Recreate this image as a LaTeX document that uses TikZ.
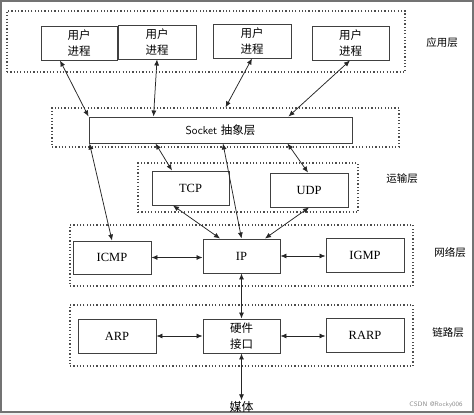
\documentclass[tikz,border=0pt]{standalone}
\usepackage{fontspec}
\setmainfont{Liberation Serif}
\newfontfamily\cjk{Noto Sans CJK SC}
\usetikzlibrary{arrows.meta}
\begin{document}
\begin{tikzpicture}[x=1pt,y=-1pt,
  box/.style={draw=black!75,line width=0.95pt,minimum height=34pt,inner sep=0pt,font=\fontsize{12.5}{16.5}\selectfont,align=center},
  cbox/.style={box,font=\cjk\fontsize{11.5}{16.5}\selectfont},
  grp/.style={draw=black!70,line width=1.2pt,dash pattern=on 1.2pt off 2.1pt,inner sep=0pt},
  lay/.style={font=\cjk\fontsize{10.5}{12}\selectfont,inner sep=0pt},
  conn/.style={{Latex[length=6pt,width=5pt]}-{Latex[length=6pt,width=5pt]},line width=0.75pt,black!85},
]
\useasboundingbox (0,0) rectangle (474,415);
\fill[white] (0,0) rectangle (474,415);
\fill[black!6] (0,412) rectangle (474,415);
\draw[black!55,line width=2pt] (1,1) rectangle (473,412);

% group boxes
\node[grp,minimum width=398pt,minimum height=61pt] (ag) at (206,41.5) {};
\node[grp,minimum width=347pt,minimum height=39pt] (sg) at (225.5,127.5) {};
\node[grp,minimum width=220pt,minimum height=49pt] (tg) at (248,187.5) {};
\node[grp,minimum width=343pt,minimum height=61pt] (ng) at (241.5,255.5) {};
\node[grp,minimum width=343pt,minimum height=61pt] (lg) at (241.5,335.5) {};

% application
\node[cbox,minimum width=76pt] (u1) at (79,43) {用户\\进程};
\node[cbox,minimum width=78pt] (u2) at (157,42) {用户\\进程};
\node[cbox,minimum width=78pt] (u3) at (252,41) {用户\\进程};
\node[cbox,minimum width=77pt] (u4) at (350.5,43) {用户\\进程};
\node[box,minimum width=263pt,minimum height=26pt] (soc) at (220.5,130) {\fontsize{11.5}{13}\selectfont\sffamily Socket {\cjk 抽象层}};

% transport
\node[box,minimum width=77pt] (tcp) at (190.5,188) {TCP};
\node[box,minimum width=78pt] (udp) at (309,190) {UDP};

% network
\node[box,minimum width=78pt,minimum height=33pt] (icmp) at (112,257.5) {ICMP};
\node[box,minimum width=77pt] (ip) at (241.5,256) {IP};
\node[box,minimum width=78pt] (igmp) at (365,255) {IGMP};

% link
\node[box,minimum width=78pt] (arp) at (117,336) {ARP};
\node[cbox,minimum width=77pt] (hw) at (241.5,336) {硬件\\接口};
\node[box,minimum width=78pt] (rarp) at (365,335) {RARP};

\node[lay,font=\cjk\fontsize{12}{13}\selectfont] (media) at (241.5,407) {媒体};

% layer labels
\node[lay] (l1) at (442,43) {应用层};
\node[lay] (l2) at (402,179) {运输层};
\node[lay] (l3) at (450,252) {网络层};
\node[lay] (l4) at (448,333) {链路层};

\node[font=\sffamily\fontsize{6.5}{7}\selectfont,text=black!45,inner sep=0pt] (wm) at (436,405) {CSDN @Rocky006};

% connectors
\draw[conn] ([xshift=-19pt]u1.south) -- (soc.north west);
\draw[conn] (u2.south) -- ([xshift=65pt]soc.north west);
\draw[conn] (u3.south) -- (sg.north);
\draw[conn] ([xshift=-0.5pt]u4.south) -- ([xshift=-64pt]soc.north east);
\draw[conn] ([xshift=67pt]soc.south west) -- ([xshift=-18.5pt]tcp.north);
\draw[conn] ([xshift=-65pt]soc.south east) -- ([xshift=-1pt]udp.north);
\draw[conn] ([xshift=1pt]soc.south west) -- (icmp.north);
\draw[conn] ([xshift=2.5pt]soc.south) -- (ip.north);
\draw[conn] ([xshift=-17.5pt]tcp.south) -- ([xshift=-21.5pt]ip.north);
\draw[conn] (udp.south) -- ([xshift=23.5pt]ip.north);
\draw[conn] (icmp.east) -- (icmp.east -| ip.west);
\draw[conn] (ip.east) -- (ip.east -| igmp.west);
\draw[conn] (ip.south) -- (hw.north);
\draw[conn] (arp.east) -- (arp.east -| hw.west);
\draw[conn] (hw.east) -- (hw.east -| rarp.west);
\draw[conn] (hw.south) -- ([yshift=1pt]media.north);
\end{tikzpicture}
\end{document}
